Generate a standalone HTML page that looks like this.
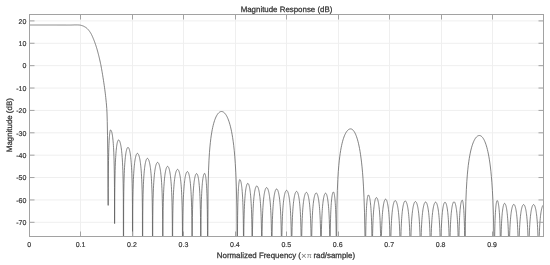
<!DOCTYPE html>
<html><head><meta charset="utf-8"><title>Magnitude Response (dB)</title>
<style>html,body{margin:0;padding:0;background:#fff}body{width:550px;height:265px;overflow:hidden}</style></head>
<body>
<svg width="550" height="265" viewBox="0 0 550 265" style="display:block">
<rect width="550" height="265" fill="#fff"/>
<defs><clipPath id="c"><rect x="29.5" y="14.5" width="514" height="222"/></clipPath></defs>
<path d="M80.50 14.5 V236.5 M132.50 14.5 V236.5 M183.50 14.5 V236.5 M235.50 14.5 V236.5 M286.50 14.5 V236.5 M338.50 14.5 V236.5 M389.50 14.5 V236.5 M441.50 14.5 V236.5 M492.50 14.5 V236.5 M29.5 222.32 H543.5 M29.5 199.94 H543.5 M29.5 177.56 H543.5 M29.5 155.18 H543.5 M29.5 132.80 H543.5 M29.5 110.42 H543.5 M29.5 88.04 H543.5 M29.5 65.66 H543.5 M29.5 43.28 H543.5 M29.5 20.90 H543.5" stroke="#efefef" stroke-width="1" fill="none"/>
<path d="M29.50 25.00 L29.75 25.00 L30.00 25.00 L30.25 25.00 L30.50 25.00 L30.75 25.00 L31.00 25.00 L31.25 25.00 L31.50 25.00 L31.75 25.00 L32.00 25.00 L32.25 25.00 L32.50 25.00 L32.75 25.00 L33.00 25.00 L33.25 25.00 L33.50 25.00 L33.75 25.00 L34.00 25.00 L34.25 25.00 L34.50 25.00 L34.75 25.00 L35.00 25.00 L35.25 25.00 L35.50 25.00 L35.75 25.00 L36.00 25.00 L36.25 25.00 L36.50 25.00 L36.75 25.00 L37.00 25.00 L37.25 25.00 L37.50 25.00 L37.75 25.00 L38.00 25.00 L38.25 25.00 L38.50 25.00 L38.75 25.00 L39.00 25.00 L39.25 25.00 L39.50 25.00 L39.75 25.00 L40.00 25.00 L40.25 25.00 L40.50 25.00 L40.75 25.00 L41.00 25.00 L41.25 25.00 L41.50 25.00 L41.75 25.00 L42.00 25.00 L42.25 25.00 L42.50 25.00 L42.75 25.00 L43.00 25.00 L43.25 25.00 L43.50 25.00 L43.75 25.00 L44.00 25.00 L44.25 25.00 L44.50 25.00 L44.75 25.00 L45.00 25.00 L45.25 25.00 L45.50 25.00 L45.75 25.00 L46.00 25.00 L46.25 25.00 L46.50 25.00 L46.75 25.00 L47.00 25.00 L47.25 25.00 L47.50 25.00 L47.75 25.00 L48.00 25.00 L48.25 25.00 L48.50 25.00 L48.75 25.00 L49.00 25.00 L49.25 25.00 L49.50 25.00 L49.75 25.00 L50.00 25.00 L50.25 25.00 L50.50 25.00 L50.75 25.00 L51.00 25.00 L51.25 25.00 L51.50 25.00 L51.75 25.00 L52.00 25.00 L52.25 25.00 L52.50 25.00 L52.75 25.00 L53.00 25.00 L53.25 25.00 L53.50 25.00 L53.75 25.00 L54.00 25.01 L54.25 25.01 L54.50 25.01 L54.75 25.01 L55.00 25.01 L55.25 25.01 L55.50 25.01 L55.75 25.01 L56.00 25.01 L56.25 25.01 L56.50 25.01 L56.75 25.01 L57.00 25.01 L57.25 25.01 L57.50 25.02 L57.75 25.02 L58.00 25.02 L58.25 25.02 L58.50 25.02 L58.75 25.02 L59.00 25.02 L59.25 25.02 L59.50 25.02 L59.75 25.02 L60.00 25.03 L60.25 25.03 L60.50 25.03 L60.75 25.03 L61.00 25.03 L61.25 25.03 L61.50 25.03 L61.75 25.03 L62.00 25.03 L62.25 25.03 L62.50 25.03 L62.75 25.04 L63.00 25.04 L63.25 25.04 L63.50 25.04 L63.75 25.04 L64.00 25.04 L64.25 25.04 L64.50 25.04 L64.75 25.04 L65.00 25.04 L65.25 25.04 L65.50 25.04 L65.75 25.04 L66.00 25.04 L66.25 25.05 L66.50 25.05 L66.75 25.05 L67.00 25.05 L67.25 25.05 L67.50 25.05 L67.75 25.05 L68.00 25.05 L68.25 25.05 L68.50 25.05 L68.75 25.05 L69.00 25.05 L69.25 25.05 L69.50 25.05 L69.75 25.05 L70.00 25.05 L70.25 25.05 L70.50 25.05 L70.75 25.04 L71.00 25.04 L71.25 25.03 L71.50 25.03 L71.75 25.02 L72.00 25.01 L72.25 25.00 L72.50 24.99 L72.75 24.98 L73.00 24.98 L73.25 24.97 L73.50 24.96 L73.75 24.95 L74.00 24.94 L74.25 24.93 L74.50 24.92 L74.75 24.92 L75.00 24.91 L75.25 24.91 L75.50 24.90 L75.75 24.90 L76.00 24.90 L76.25 24.90 L76.50 24.90 L76.75 24.91 L77.00 24.91 L77.25 24.92 L77.50 24.93 L77.75 24.94 L78.00 24.95 L78.25 24.96 L78.50 24.97 L78.75 24.99 L79.00 25.00 L79.25 25.02 L79.50 25.04 L79.75 25.08 L80.00 25.12 L80.25 25.16 L80.50 25.22 L80.75 25.27 L81.00 25.33 L81.25 25.40 L81.50 25.46 L81.75 25.53 L82.00 25.60 L82.25 25.67 L82.50 25.76 L82.75 25.84 L83.00 25.94 L83.25 26.04 L83.50 26.16 L83.75 26.27 L84.00 26.40 L84.25 26.53 L84.50 26.66 L84.75 26.81 L85.00 26.95 L85.25 27.11 L85.50 27.27 L85.75 27.43 L86.00 27.60 L86.25 27.78 L86.50 27.97 L86.75 28.18 L87.00 28.40 L87.25 28.64 L87.50 28.89 L87.75 29.15 L88.00 29.42 L88.25 29.70 L88.50 30.00 L88.75 30.31 L89.00 30.63 L89.25 30.96 L89.50 31.29 L89.75 31.64 L90.00 32.00 L90.25 32.37 L90.50 32.77 L90.75 33.19 L91.00 33.63 L91.25 34.10 L91.50 34.58 L91.75 35.08 L92.00 35.60 L92.25 36.14 L92.50 36.70 L92.75 37.27 L93.00 37.86 L93.25 38.46 L93.50 39.07 L93.75 39.70 L94.00 40.34 L94.25 40.99 L94.50 41.65 L94.75 42.32 L95.00 43.00 L95.25 43.69 L95.50 44.41 L95.75 45.15 L96.00 45.91 L96.25 46.69 L96.50 47.50 L96.75 48.32 L97.00 49.17 L97.25 50.04 L97.50 50.93 L97.75 51.84 L98.00 52.78 L98.25 53.73 L98.50 54.71 L98.75 55.71 L99.00 56.72 L99.25 57.76 L99.50 58.82 L99.75 59.90 L100.00 61.00 L100.25 62.13 L100.50 63.32 L100.75 64.55 L101.00 65.82 L101.25 67.14 L101.50 68.50 L101.75 69.90 L102.00 71.34 L102.25 72.81 L102.50 74.32 L102.75 75.86 L103.00 77.43 L103.25 79.03 L103.50 80.65 L103.75 82.29 L104.00 83.95 L104.25 85.65 L104.50 87.40 L104.75 89.23 L105.00 91.14 L105.25 93.16 L105.50 95.29 L105.75 97.57 L106.00 100.00 L106.25 102.43 L106.50 105.05 L106.75 108.40 L107.00 113.00 L107.25 121.44 L107.50 135.41 L107.75 154.51 L108.00 188.70 L108.15 205.40 L108.20 205.40 L108.28 187.35 L108.36 173.90 L108.44 166.06 L108.52 160.53 L108.60 156.27 L108.68 152.83 L108.76 149.95 L108.84 147.49 L108.92 145.35 L109.00 143.47 L109.08 141.81 L109.16 140.33 L109.24 139.00 L109.32 137.81 L109.40 136.74 L109.48 135.77 L109.56 134.90 L109.64 134.12 L109.72 133.42 L109.80 132.80 L109.88 132.24 L109.96 131.76 L110.04 131.34 L110.12 130.98 L110.20 130.67 L110.28 130.43 L110.36 130.24 L110.44 130.11 L110.52 130.03 L110.60 130.00 L110.73 130.03 L110.87 130.11 L111.00 130.24 L111.13 130.43 L111.27 130.67 L111.40 130.98 L111.53 131.34 L111.67 131.76 L111.80 132.24 L111.93 132.80 L112.07 133.42 L112.20 134.12 L112.33 134.90 L112.47 135.77 L112.60 136.74 L112.73 137.81 L112.87 139.00 L113.00 140.33 L113.13 141.81 L113.27 143.47 L113.40 145.35 L113.53 147.49 L113.67 149.95 L113.80 152.83 L113.93 156.27 L114.07 160.53 L114.20 166.06 L114.33 173.90 L114.47 187.35 L114.60 223.60 L114.60 223.60 L114.73 197.35 L114.87 183.90 L115.00 176.06 L115.13 170.53 L115.27 166.27 L115.40 162.83 L115.53 159.95 L115.67 157.49 L115.80 155.35 L115.93 153.47 L116.07 151.81 L116.20 150.33 L116.33 149.00 L116.47 147.81 L116.60 146.74 L116.73 145.77 L116.87 144.90 L117.00 144.12 L117.13 143.42 L117.27 142.80 L117.40 142.24 L117.53 141.76 L117.67 141.34 L117.80 140.98 L117.93 140.67 L118.07 140.43 L118.20 140.24 L118.33 140.11 L118.47 140.03 L118.60 140.00 L118.76 140.03 L118.93 140.11 L119.09 140.24 L119.25 140.43 L119.42 140.67 L119.58 140.98 L119.74 141.34 L119.91 141.76 L120.07 142.24 L120.23 142.80 L120.40 143.42 L120.56 144.12 L120.72 144.90 L120.89 145.77 L121.05 146.74 L121.21 147.81 L121.38 149.00 L121.54 150.33 L121.70 151.81 L121.87 153.47 L122.03 155.35 L122.19 157.49 L122.36 159.95 L122.52 162.83 L122.68 166.27 L122.85 170.53 L123.01 176.06 L123.17 183.90 L123.34 197.35 L123.50 300.00 L123.50 300.00 L123.65 204.75 L123.80 191.30 L123.95 183.46 L124.10 177.93 L124.25 173.67 L124.40 170.23 L124.55 167.35 L124.70 164.89 L124.85 162.75 L125.00 160.87 L125.15 159.21 L125.30 157.73 L125.45 156.40 L125.60 155.21 L125.75 154.14 L125.90 153.17 L126.05 152.30 L126.20 151.52 L126.35 150.82 L126.50 150.20 L126.65 149.64 L126.80 149.16 L126.95 148.74 L127.10 148.38 L127.25 148.07 L127.40 147.83 L127.55 147.64 L127.70 147.51 L127.85 147.43 L128.00 147.40 L128.15 147.43 L128.31 147.51 L128.46 147.64 L128.61 147.83 L128.77 148.07 L128.92 148.38 L129.07 148.74 L129.23 149.16 L129.38 149.64 L129.53 150.20 L129.69 150.82 L129.84 151.52 L129.99 152.30 L130.15 153.17 L130.30 154.14 L130.45 155.21 L130.61 156.40 L130.76 157.73 L130.91 159.21 L131.07 160.87 L131.22 162.75 L131.37 164.89 L131.53 167.35 L131.68 170.23 L131.83 173.67 L131.99 177.93 L132.14 183.46 L132.29 191.30 L132.45 204.75 L132.60 300.00 L132.60 300.00 L132.76 210.75 L132.92 197.30 L133.08 189.46 L133.24 183.93 L133.40 179.67 L133.56 176.23 L133.72 173.35 L133.88 170.89 L134.04 168.75 L134.20 166.87 L134.36 165.21 L134.52 163.73 L134.68 162.40 L134.84 161.21 L135.00 160.14 L135.16 159.17 L135.32 158.30 L135.48 157.52 L135.64 156.82 L135.80 156.20 L135.96 155.64 L136.12 155.16 L136.28 154.74 L136.44 154.38 L136.60 154.07 L136.76 153.83 L136.92 153.64 L137.08 153.51 L137.24 153.43 L137.40 153.40 L137.57 153.43 L137.75 153.51 L137.92 153.64 L138.09 153.83 L138.27 154.07 L138.44 154.38 L138.61 154.74 L138.79 155.16 L138.96 155.64 L139.13 156.20 L139.31 156.82 L139.48 157.52 L139.65 158.30 L139.83 159.17 L140.00 160.14 L140.17 161.21 L140.35 162.40 L140.52 163.73 L140.69 165.21 L140.87 166.87 L141.04 168.75 L141.21 170.89 L141.39 173.35 L141.56 176.23 L141.73 179.67 L141.91 183.93 L142.08 189.46 L142.25 197.30 L142.43 210.75 L142.60 300.00 L142.60 300.00 L142.76 215.75 L142.92 202.30 L143.08 194.46 L143.24 188.93 L143.40 184.67 L143.56 181.23 L143.72 178.35 L143.88 175.89 L144.04 173.75 L144.20 171.87 L144.36 170.21 L144.52 168.73 L144.68 167.40 L144.84 166.21 L145.00 165.14 L145.16 164.17 L145.32 163.30 L145.48 162.52 L145.64 161.82 L145.80 161.20 L145.96 160.64 L146.12 160.16 L146.28 159.74 L146.44 159.38 L146.60 159.07 L146.76 158.83 L146.92 158.64 L147.08 158.51 L147.24 158.43 L147.40 158.40 L147.57 158.43 L147.75 158.51 L147.92 158.64 L148.09 158.83 L148.27 159.07 L148.44 159.38 L148.61 159.74 L148.79 160.16 L148.96 160.64 L149.13 161.20 L149.31 161.82 L149.48 162.52 L149.65 163.30 L149.83 164.17 L150.00 165.14 L150.17 166.21 L150.35 167.40 L150.52 168.73 L150.69 170.21 L150.87 171.87 L151.04 173.75 L151.21 175.89 L151.39 178.35 L151.56 181.23 L151.73 184.67 L151.91 188.93 L152.08 194.46 L152.25 202.30 L152.43 215.75 L152.60 300.00 L152.60 300.00 L152.77 219.75 L152.93 206.30 L153.10 198.46 L153.27 192.93 L153.43 188.67 L153.60 185.23 L153.77 182.35 L153.93 179.89 L154.10 177.75 L154.27 175.87 L154.43 174.21 L154.60 172.73 L154.77 171.40 L154.93 170.21 L155.10 169.14 L155.27 168.17 L155.43 167.30 L155.60 166.52 L155.77 165.82 L155.93 165.20 L156.10 164.64 L156.27 164.16 L156.43 163.74 L156.60 163.38 L156.77 163.07 L156.93 162.83 L157.10 162.64 L157.27 162.51 L157.43 162.43 L157.60 162.40 L157.77 162.43 L157.95 162.51 L158.12 162.64 L158.29 162.83 L158.47 163.07 L158.64 163.38 L158.81 163.74 L158.99 164.16 L159.16 164.64 L159.33 165.20 L159.51 165.82 L159.68 166.52 L159.85 167.30 L160.03 168.17 L160.20 169.14 L160.37 170.21 L160.55 171.40 L160.72 172.73 L160.89 174.21 L161.07 175.87 L161.24 177.75 L161.41 179.89 L161.59 182.35 L161.76 185.23 L161.93 188.67 L162.11 192.93 L162.28 198.46 L162.45 206.30 L162.63 219.75 L162.80 300.00 L162.80 300.00 L162.96 223.75 L163.12 210.30 L163.28 202.46 L163.44 196.93 L163.60 192.67 L163.76 189.23 L163.92 186.35 L164.08 183.89 L164.24 181.75 L164.40 179.87 L164.56 178.21 L164.72 176.73 L164.88 175.40 L165.04 174.21 L165.20 173.14 L165.36 172.17 L165.52 171.30 L165.68 170.52 L165.84 169.82 L166.00 169.20 L166.16 168.64 L166.32 168.16 L166.48 167.74 L166.64 167.38 L166.80 167.07 L166.96 166.83 L167.12 166.64 L167.28 166.51 L167.44 166.43 L167.60 166.40 L167.76 166.43 L167.93 166.51 L168.09 166.64 L168.25 166.83 L168.42 167.07 L168.58 167.38 L168.74 167.74 L168.91 168.16 L169.07 168.64 L169.23 169.20 L169.40 169.82 L169.56 170.52 L169.72 171.30 L169.89 172.17 L170.05 173.14 L170.21 174.21 L170.38 175.40 L170.54 176.73 L170.70 178.21 L170.87 179.87 L171.03 181.75 L171.19 183.89 L171.36 186.35 L171.52 189.23 L171.68 192.67 L171.85 196.93 L172.01 202.46 L172.17 210.30 L172.34 223.75 L172.50 300.00 L172.50 300.00 L172.67 226.75 L172.84 213.30 L173.01 205.46 L173.18 199.93 L173.35 195.67 L173.52 192.23 L173.69 189.35 L173.86 186.89 L174.03 184.75 L174.20 182.87 L174.37 181.21 L174.54 179.73 L174.71 178.40 L174.88 177.21 L175.05 176.14 L175.22 175.17 L175.39 174.30 L175.56 173.52 L175.73 172.82 L175.90 172.20 L176.07 171.64 L176.24 171.16 L176.41 170.74 L176.58 170.38 L176.75 170.07 L176.92 169.83 L177.09 169.64 L177.26 169.51 L177.43 169.43 L177.60 169.40 L177.77 169.43 L177.93 169.51 L178.10 169.64 L178.27 169.83 L178.43 170.07 L178.60 170.38 L178.77 170.74 L178.93 171.16 L179.10 171.64 L179.27 172.20 L179.43 172.82 L179.60 173.52 L179.77 174.30 L179.93 175.17 L180.10 176.14 L180.27 177.21 L180.43 178.40 L180.60 179.73 L180.77 181.21 L180.93 182.87 L181.10 184.75 L181.27 186.89 L181.43 189.35 L181.60 192.23 L181.77 195.67 L181.93 199.93 L182.10 205.46 L182.27 213.30 L182.43 226.75 L182.60 300.00 L182.60 300.00 L182.76 228.95 L182.92 215.50 L183.08 207.66 L183.24 202.13 L183.40 197.87 L183.56 194.43 L183.72 191.55 L183.88 189.09 L184.04 186.95 L184.20 185.07 L184.36 183.41 L184.52 181.93 L184.68 180.60 L184.84 179.41 L185.00 178.34 L185.16 177.37 L185.32 176.50 L185.48 175.72 L185.64 175.02 L185.80 174.40 L185.96 173.84 L186.12 173.36 L186.28 172.94 L186.44 172.58 L186.60 172.27 L186.76 172.03 L186.92 171.84 L187.08 171.71 L187.24 171.63 L187.40 171.60 L187.56 171.63 L187.71 171.71 L187.87 171.84 L188.03 172.03 L188.18 172.27 L188.34 172.58 L188.50 172.94 L188.65 173.36 L188.81 173.84 L188.97 174.40 L189.12 175.02 L189.28 175.72 L189.44 176.50 L189.59 177.37 L189.75 178.34 L189.91 179.41 L190.06 180.60 L190.22 181.93 L190.38 183.41 L190.53 185.07 L190.69 186.95 L190.85 189.09 L191.00 191.55 L191.16 194.43 L191.32 197.87 L191.47 202.13 L191.63 207.66 L191.79 215.50 L191.94 228.95 L192.10 300.00 L192.10 300.00 L192.25 230.95 L192.40 217.50 L192.55 209.66 L192.70 204.13 L192.85 199.87 L193.00 196.43 L193.15 193.55 L193.30 191.09 L193.45 188.95 L193.60 187.07 L193.75 185.41 L193.90 183.93 L194.05 182.60 L194.20 181.41 L194.35 180.34 L194.50 179.37 L194.65 178.50 L194.80 177.72 L194.95 177.02 L195.10 176.40 L195.25 175.84 L195.40 175.36 L195.55 174.94 L195.70 174.58 L195.85 174.27 L196.00 174.03 L196.15 173.84 L196.30 173.71 L196.45 173.63 L196.60 173.60 L196.74 173.63 L196.88 173.71 L197.02 173.84 L197.16 174.03 L197.30 174.27 L197.44 174.58 L197.58 174.94 L197.72 175.36 L197.86 175.84 L198.00 176.40 L198.14 177.02 L198.28 177.72 L198.42 178.50 L198.56 179.37 L198.70 180.34 L198.84 181.41 L198.98 182.60 L199.12 183.93 L199.26 185.41 L199.40 187.07 L199.54 188.95 L199.68 191.09 L199.82 193.55 L199.96 196.43 L200.10 199.87 L200.24 204.13 L200.38 209.66 L200.52 217.50 L200.66 230.95 L200.80 300.00 L200.80 300.00 L200.93 230.75 L201.05 217.30 L201.18 209.46 L201.31 203.93 L201.43 199.67 L201.56 196.23 L201.69 193.35 L201.81 190.89 L201.94 188.75 L202.07 186.87 L202.19 185.21 L202.32 183.73 L202.45 182.40 L202.57 181.21 L202.70 180.14 L202.83 179.17 L202.95 178.30 L203.08 177.52 L203.21 176.82 L203.33 176.20 L203.46 175.64 L203.59 175.16 L203.71 174.74 L203.84 174.38 L203.97 174.07 L204.09 173.83 L204.22 173.64 L204.35 173.51 L204.47 173.43 L204.60 173.40 L204.70 173.43 L204.80 173.51 L204.90 173.64 L205.00 173.83 L205.10 174.07 L205.20 174.38 L205.30 174.74 L205.40 175.16 L205.50 175.64 L205.60 176.20 L205.70 176.82 L205.80 177.52 L205.90 178.30 L206.00 179.17 L206.10 180.14 L206.20 181.21 L206.30 182.40 L206.40 183.73 L206.50 185.21 L206.60 186.87 L206.70 188.75 L206.80 190.89 L206.90 193.35 L207.00 196.23 L207.10 199.67 L207.20 203.93 L207.30 209.46 L207.40 217.30 L207.50 230.75 L207.60 300.00 L207.60 300.00 L208.06 188.92 L208.53 170.76 L208.99 160.18 L209.45 152.72 L209.92 146.97 L210.38 142.32 L210.84 138.43 L211.31 135.11 L211.77 132.22 L212.23 129.69 L212.70 127.45 L213.16 125.45 L213.62 123.65 L214.09 122.04 L214.55 120.60 L215.01 119.29 L215.48 118.12 L215.94 117.06 L216.40 116.12 L216.87 115.27 L217.33 114.53 L217.79 113.87 L218.26 113.30 L218.72 112.82 L219.18 112.41 L219.65 112.08 L220.11 111.83 L220.57 111.64 L221.04 111.54 L221.50 111.50 L222.03 111.55 L222.56 111.68 L223.09 111.91 L223.62 112.23 L224.15 112.65 L224.68 113.16 L225.21 113.77 L225.74 114.49 L226.27 115.31 L226.80 116.25 L227.33 117.31 L227.86 118.50 L228.39 119.83 L228.92 121.31 L229.45 122.95 L229.98 124.78 L230.51 126.80 L231.04 129.06 L231.57 131.58 L232.10 134.41 L232.63 137.60 L233.16 141.23 L233.69 145.41 L234.22 150.31 L234.75 156.17 L235.28 163.40 L235.81 172.80 L236.34 186.13 L236.87 208.99 L237.40 300.00 L237.40 300.00 L237.48 236.95 L237.56 223.50 L237.64 215.66 L237.72 210.13 L237.80 205.87 L237.88 202.43 L237.96 199.55 L238.04 197.09 L238.12 194.95 L238.20 193.07 L238.28 191.41 L238.36 189.93 L238.44 188.60 L238.52 187.41 L238.60 186.34 L238.68 185.37 L238.76 184.50 L238.84 183.72 L238.92 183.02 L239.00 182.40 L239.08 181.84 L239.16 181.36 L239.24 180.94 L239.32 180.58 L239.40 180.27 L239.48 180.03 L239.56 179.84 L239.64 179.71 L239.72 179.63 L239.80 179.60 L239.93 179.63 L240.05 179.71 L240.18 179.84 L240.31 180.03 L240.43 180.27 L240.56 180.58 L240.69 180.94 L240.81 181.36 L240.94 181.84 L241.07 182.40 L241.19 183.02 L241.32 183.72 L241.45 184.50 L241.57 185.37 L241.70 186.34 L241.83 187.41 L241.95 188.60 L242.08 189.93 L242.21 191.41 L242.33 193.07 L242.46 194.95 L242.59 197.09 L242.71 199.55 L242.84 202.43 L242.97 205.87 L243.09 210.13 L243.22 215.66 L243.35 223.50 L243.47 236.95 L243.60 300.00 L243.60 300.00 L243.74 240.75 L243.88 227.30 L244.02 219.46 L244.16 213.93 L244.30 209.67 L244.44 206.23 L244.58 203.35 L244.72 200.89 L244.86 198.75 L245.00 196.87 L245.14 195.21 L245.28 193.73 L245.42 192.40 L245.56 191.21 L245.70 190.14 L245.84 189.17 L245.98 188.30 L246.12 187.52 L246.26 186.82 L246.40 186.20 L246.54 185.64 L246.68 185.16 L246.82 184.74 L246.96 184.38 L247.10 184.07 L247.24 183.83 L247.38 183.64 L247.52 183.51 L247.66 183.43 L247.80 183.40 L247.95 183.43 L248.09 183.51 L248.24 183.64 L248.39 183.83 L248.53 184.07 L248.68 184.38 L248.83 184.74 L248.97 185.16 L249.12 185.64 L249.27 186.20 L249.41 186.82 L249.56 187.52 L249.71 188.30 L249.85 189.17 L250.00 190.14 L250.15 191.21 L250.29 192.40 L250.44 193.73 L250.59 195.21 L250.73 196.87 L250.88 198.75 L251.03 200.89 L251.17 203.35 L251.32 206.23 L251.47 209.67 L251.61 213.93 L251.76 219.46 L251.91 227.30 L252.05 240.75 L252.20 300.00 L252.20 300.00 L252.35 243.35 L252.51 229.90 L252.66 222.06 L252.81 216.53 L252.97 212.27 L253.12 208.83 L253.27 205.95 L253.43 203.49 L253.58 201.35 L253.73 199.47 L253.89 197.81 L254.04 196.33 L254.19 195.00 L254.35 193.81 L254.50 192.74 L254.65 191.77 L254.81 190.90 L254.96 190.12 L255.11 189.42 L255.27 188.80 L255.42 188.24 L255.57 187.76 L255.73 187.34 L255.88 186.98 L256.03 186.67 L256.19 186.43 L256.34 186.24 L256.49 186.11 L256.65 186.03 L256.80 186.00 L256.97 186.03 L257.13 186.11 L257.30 186.24 L257.47 186.43 L257.63 186.67 L257.80 186.98 L257.97 187.34 L258.13 187.76 L258.30 188.24 L258.47 188.80 L258.63 189.42 L258.80 190.12 L258.97 190.90 L259.13 191.77 L259.30 192.74 L259.47 193.81 L259.63 195.00 L259.80 196.33 L259.97 197.81 L260.13 199.47 L260.30 201.35 L260.47 203.49 L260.63 205.95 L260.80 208.83 L260.97 212.27 L261.13 216.53 L261.30 222.06 L261.47 229.90 L261.63 243.35 L261.80 300.00 L261.80 300.00 L261.96 244.95 L262.12 231.50 L262.28 223.66 L262.44 218.13 L262.60 213.87 L262.76 210.43 L262.92 207.55 L263.08 205.09 L263.24 202.95 L263.40 201.07 L263.56 199.41 L263.72 197.93 L263.88 196.60 L264.04 195.41 L264.20 194.34 L264.36 193.37 L264.52 192.50 L264.68 191.72 L264.84 191.02 L265.00 190.40 L265.16 189.84 L265.32 189.36 L265.48 188.94 L265.64 188.58 L265.80 188.27 L265.96 188.03 L266.12 187.84 L266.28 187.71 L266.44 187.63 L266.60 187.60 L266.77 187.63 L266.95 187.71 L267.12 187.84 L267.29 188.03 L267.47 188.27 L267.64 188.58 L267.81 188.94 L267.99 189.36 L268.16 189.84 L268.33 190.40 L268.51 191.02 L268.68 191.72 L268.85 192.50 L269.03 193.37 L269.20 194.34 L269.37 195.41 L269.55 196.60 L269.72 197.93 L269.89 199.41 L270.07 201.07 L270.24 202.95 L270.41 205.09 L270.59 207.55 L270.76 210.43 L270.93 213.87 L271.11 218.13 L271.28 223.66 L271.45 231.50 L271.63 244.95 L271.80 300.00 L271.80 300.00 L271.96 246.35 L272.12 232.90 L272.28 225.06 L272.44 219.53 L272.60 215.27 L272.76 211.83 L272.92 208.95 L273.08 206.49 L273.24 204.35 L273.40 202.47 L273.56 200.81 L273.72 199.33 L273.88 198.00 L274.04 196.81 L274.20 195.74 L274.36 194.77 L274.52 193.90 L274.68 193.12 L274.84 192.42 L275.00 191.80 L275.16 191.24 L275.32 190.76 L275.48 190.34 L275.64 189.98 L275.80 189.67 L275.96 189.43 L276.12 189.24 L276.28 189.11 L276.44 189.03 L276.60 189.00 L276.77 189.03 L276.93 189.11 L277.10 189.24 L277.27 189.43 L277.43 189.67 L277.60 189.98 L277.77 190.34 L277.93 190.76 L278.10 191.24 L278.27 191.80 L278.43 192.42 L278.60 193.12 L278.77 193.90 L278.93 194.77 L279.10 195.74 L279.27 196.81 L279.43 198.00 L279.60 199.33 L279.77 200.81 L279.93 202.47 L280.10 204.35 L280.27 206.49 L280.43 208.95 L280.60 211.83 L280.77 215.27 L280.93 219.53 L281.10 225.06 L281.27 232.90 L281.43 246.35 L281.60 300.00 L281.60 300.00 L281.77 247.75 L281.93 234.30 L282.10 226.46 L282.27 220.93 L282.43 216.67 L282.60 213.23 L282.77 210.35 L282.93 207.89 L283.10 205.75 L283.27 203.87 L283.43 202.21 L283.60 200.73 L283.77 199.40 L283.93 198.21 L284.10 197.14 L284.27 196.17 L284.43 195.30 L284.60 194.52 L284.77 193.82 L284.93 193.20 L285.10 192.64 L285.27 192.16 L285.43 191.74 L285.60 191.38 L285.77 191.07 L285.93 190.83 L286.10 190.64 L286.27 190.51 L286.43 190.43 L286.60 190.40 L286.77 190.43 L286.93 190.51 L287.10 190.64 L287.27 190.83 L287.43 191.07 L287.60 191.38 L287.77 191.74 L287.93 192.16 L288.10 192.64 L288.27 193.20 L288.43 193.82 L288.60 194.52 L288.77 195.30 L288.93 196.17 L289.10 197.14 L289.27 198.21 L289.43 199.40 L289.60 200.73 L289.77 202.21 L289.93 203.87 L290.10 205.75 L290.27 207.89 L290.43 210.35 L290.60 213.23 L290.77 216.67 L290.93 220.93 L291.10 226.46 L291.27 234.30 L291.43 247.75 L291.60 300.00 L291.60 300.00 L291.77 248.75 L291.93 235.30 L292.10 227.46 L292.27 221.93 L292.43 217.67 L292.60 214.23 L292.77 211.35 L292.93 208.89 L293.10 206.75 L293.27 204.87 L293.43 203.21 L293.60 201.73 L293.77 200.40 L293.93 199.21 L294.10 198.14 L294.27 197.17 L294.43 196.30 L294.60 195.52 L294.77 194.82 L294.93 194.20 L295.10 193.64 L295.27 193.16 L295.43 192.74 L295.60 192.38 L295.77 192.07 L295.93 191.83 L296.10 191.64 L296.27 191.51 L296.43 191.43 L296.60 191.40 L296.76 191.43 L296.92 191.51 L297.08 191.64 L297.24 191.83 L297.40 192.07 L297.56 192.38 L297.72 192.74 L297.88 193.16 L298.04 193.64 L298.20 194.20 L298.36 194.82 L298.52 195.52 L298.68 196.30 L298.84 197.17 L299.00 198.14 L299.16 199.21 L299.32 200.40 L299.48 201.73 L299.64 203.21 L299.80 204.87 L299.96 206.75 L300.12 208.89 L300.28 211.35 L300.44 214.23 L300.60 217.67 L300.76 221.93 L300.92 227.46 L301.08 235.30 L301.24 248.75 L301.40 300.00 L301.40 300.00 L301.57 249.75 L301.73 236.30 L301.90 228.46 L302.07 222.93 L302.23 218.67 L302.40 215.23 L302.57 212.35 L302.73 209.89 L302.90 207.75 L303.07 205.87 L303.23 204.21 L303.40 202.73 L303.57 201.40 L303.73 200.21 L303.90 199.14 L304.07 198.17 L304.23 197.30 L304.40 196.52 L304.57 195.82 L304.73 195.20 L304.90 194.64 L305.07 194.16 L305.23 193.74 L305.40 193.38 L305.57 193.07 L305.73 192.83 L305.90 192.64 L306.07 192.51 L306.23 192.43 L306.40 192.40 L306.57 192.43 L306.73 192.51 L306.90 192.64 L307.07 192.83 L307.23 193.07 L307.40 193.38 L307.57 193.74 L307.73 194.16 L307.90 194.64 L308.07 195.20 L308.23 195.82 L308.40 196.52 L308.57 197.30 L308.73 198.17 L308.90 199.14 L309.07 200.21 L309.23 201.40 L309.40 202.73 L309.57 204.21 L309.73 205.87 L309.90 207.75 L310.07 209.89 L310.23 212.35 L310.40 215.23 L310.57 218.67 L310.73 222.93 L310.90 228.46 L311.07 236.30 L311.23 249.75 L311.40 300.00 L311.40 300.00 L311.56 250.35 L311.72 236.90 L311.88 229.06 L312.04 223.53 L312.20 219.27 L312.36 215.83 L312.52 212.95 L312.68 210.49 L312.84 208.35 L313.00 206.47 L313.16 204.81 L313.32 203.33 L313.48 202.00 L313.64 200.81 L313.80 199.74 L313.96 198.77 L314.12 197.90 L314.28 197.12 L314.44 196.42 L314.60 195.80 L314.76 195.24 L314.92 194.76 L315.08 194.34 L315.24 193.98 L315.40 193.67 L315.56 193.43 L315.72 193.24 L315.88 193.11 L316.04 193.03 L316.20 193.00 L316.36 193.03 L316.52 193.11 L316.68 193.24 L316.84 193.43 L317.00 193.67 L317.16 193.98 L317.32 194.34 L317.48 194.76 L317.64 195.24 L317.80 195.80 L317.96 196.42 L318.12 197.12 L318.28 197.90 L318.44 198.77 L318.60 199.74 L318.76 200.81 L318.92 202.00 L319.08 203.33 L319.24 204.81 L319.40 206.47 L319.56 208.35 L319.72 210.49 L319.88 212.95 L320.04 215.83 L320.20 219.27 L320.36 223.53 L320.52 229.06 L320.68 236.90 L320.84 250.35 L321.00 300.00 L321.00 300.00 L321.15 250.55 L321.31 237.10 L321.46 229.26 L321.61 223.73 L321.77 219.47 L321.92 216.03 L322.07 213.15 L322.23 210.69 L322.38 208.55 L322.53 206.67 L322.69 205.01 L322.84 203.53 L322.99 202.20 L323.15 201.01 L323.30 199.94 L323.45 198.97 L323.61 198.10 L323.76 197.32 L323.91 196.62 L324.07 196.00 L324.22 195.44 L324.37 194.96 L324.53 194.54 L324.68 194.18 L324.83 193.87 L324.99 193.63 L325.14 193.44 L325.29 193.31 L325.45 193.23 L325.60 193.20 L325.75 193.23 L325.89 193.31 L326.04 193.44 L326.19 193.63 L326.33 193.87 L326.48 194.18 L326.63 194.54 L326.77 194.96 L326.92 195.44 L327.07 196.00 L327.21 196.62 L327.36 197.32 L327.51 198.10 L327.65 198.97 L327.80 199.94 L327.95 201.01 L328.09 202.20 L328.24 203.53 L328.39 205.01 L328.53 206.67 L328.68 208.55 L328.83 210.69 L328.97 213.15 L329.12 216.03 L329.27 219.47 L329.41 223.73 L329.56 229.26 L329.71 237.10 L329.85 250.55 L330.00 300.00 L330.00 300.00 L330.11 249.35 L330.23 235.90 L330.34 228.06 L330.45 222.53 L330.57 218.27 L330.68 214.83 L330.79 211.95 L330.91 209.49 L331.02 207.35 L331.13 205.47 L331.25 203.81 L331.36 202.33 L331.47 201.00 L331.59 199.81 L331.70 198.74 L331.81 197.77 L331.93 196.90 L332.04 196.12 L332.15 195.42 L332.27 194.80 L332.38 194.24 L332.49 193.76 L332.61 193.34 L332.72 192.98 L332.83 192.67 L332.95 192.43 L333.06 192.24 L333.17 192.11 L333.29 192.03 L333.40 192.00 L333.50 192.03 L333.60 192.11 L333.70 192.24 L333.80 192.43 L333.90 192.67 L334.00 192.98 L334.10 193.34 L334.20 193.76 L334.30 194.24 L334.40 194.80 L334.50 195.42 L334.60 196.12 L334.70 196.90 L334.80 197.77 L334.90 198.74 L335.00 199.81 L335.10 201.00 L335.20 202.33 L335.30 203.81 L335.40 205.47 L335.50 207.35 L335.60 209.49 L335.70 211.95 L335.80 214.83 L335.90 218.27 L336.00 222.53 L336.10 228.06 L336.20 235.90 L336.30 249.35 L336.40 300.00 L336.40 300.00 L336.87 209.19 L337.35 190.36 L337.82 179.39 L338.29 171.64 L338.77 165.68 L339.24 160.86 L339.71 156.83 L340.19 153.38 L340.66 150.39 L341.13 147.76 L341.61 145.44 L342.08 143.36 L342.55 141.50 L343.03 139.83 L343.50 138.33 L343.97 136.98 L344.45 135.76 L344.92 134.67 L345.39 133.69 L345.87 132.81 L346.34 132.04 L346.81 131.36 L347.29 130.77 L347.76 130.27 L348.23 129.84 L348.71 129.50 L349.18 129.24 L349.65 129.05 L350.13 128.94 L350.60 128.90 L351.10 128.95 L351.59 129.10 L352.09 129.36 L352.59 129.72 L353.08 130.18 L353.58 130.75 L354.08 131.44 L354.57 132.24 L355.07 133.16 L355.57 134.21 L356.06 135.40 L356.56 136.73 L357.06 138.21 L357.55 139.86 L358.05 141.70 L358.55 143.74 L359.04 146.00 L359.54 148.53 L360.04 151.34 L360.53 154.50 L361.03 158.07 L361.53 162.13 L362.02 166.80 L362.52 172.27 L363.02 178.82 L363.51 186.91 L364.01 197.42 L364.51 212.31 L365.00 237.86 L365.50 300.00 L365.50 300.00 L365.60 252.35 L365.69 238.90 L365.79 231.06 L365.89 225.53 L365.98 221.27 L366.08 217.83 L366.18 214.95 L366.27 212.49 L366.37 210.35 L366.47 208.47 L366.56 206.81 L366.66 205.33 L366.76 204.00 L366.85 202.81 L366.95 201.74 L367.05 200.77 L367.14 199.90 L367.24 199.12 L367.34 198.42 L367.43 197.80 L367.53 197.24 L367.63 196.76 L367.72 196.34 L367.82 195.98 L367.92 195.67 L368.01 195.43 L368.11 195.24 L368.21 195.11 L368.30 195.03 L368.40 195.00 L368.53 195.03 L368.65 195.11 L368.78 195.24 L368.91 195.43 L369.03 195.67 L369.16 195.98 L369.29 196.34 L369.41 196.76 L369.54 197.24 L369.67 197.80 L369.79 198.42 L369.92 199.12 L370.05 199.90 L370.17 200.77 L370.30 201.74 L370.43 202.81 L370.55 204.00 L370.68 205.33 L370.81 206.81 L370.93 208.47 L371.06 210.35 L371.19 212.49 L371.31 214.95 L371.44 217.83 L371.57 221.27 L371.69 225.53 L371.82 231.06 L371.95 238.90 L372.07 252.35 L372.20 300.00 L372.20 300.00 L372.34 254.95 L372.48 241.50 L372.62 233.66 L372.76 228.13 L372.90 223.87 L373.04 220.43 L373.18 217.55 L373.32 215.09 L373.46 212.95 L373.60 211.07 L373.74 209.41 L373.88 207.93 L374.02 206.60 L374.16 205.41 L374.30 204.34 L374.44 203.37 L374.58 202.50 L374.72 201.72 L374.86 201.02 L375.00 200.40 L375.14 199.84 L375.28 199.36 L375.42 198.94 L375.56 198.58 L375.70 198.27 L375.84 198.03 L375.98 197.84 L376.12 197.71 L376.26 197.63 L376.40 197.60 L376.55 197.63 L376.71 197.71 L376.86 197.84 L377.01 198.03 L377.17 198.27 L377.32 198.58 L377.47 198.94 L377.63 199.36 L377.78 199.84 L377.93 200.40 L378.09 201.02 L378.24 201.72 L378.39 202.50 L378.55 203.37 L378.70 204.34 L378.85 205.41 L379.01 206.60 L379.16 207.93 L379.31 209.41 L379.47 211.07 L379.62 212.95 L379.77 215.09 L379.93 217.55 L380.08 220.43 L380.23 223.87 L380.39 228.13 L380.54 233.66 L380.69 241.50 L380.85 254.95 L381.00 300.00 L381.00 300.00 L381.15 256.55 L381.31 243.10 L381.46 235.26 L381.61 229.73 L381.77 225.47 L381.92 222.03 L382.07 219.15 L382.23 216.69 L382.38 214.55 L382.53 212.67 L382.69 211.01 L382.84 209.53 L382.99 208.20 L383.15 207.01 L383.30 205.94 L383.45 204.97 L383.61 204.10 L383.76 203.32 L383.91 202.62 L384.07 202.00 L384.22 201.44 L384.37 200.96 L384.53 200.54 L384.68 200.18 L384.83 199.87 L384.99 199.63 L385.14 199.44 L385.29 199.31 L385.45 199.23 L385.60 199.20 L385.76 199.23 L385.92 199.31 L386.08 199.44 L386.24 199.63 L386.40 199.87 L386.56 200.18 L386.72 200.54 L386.88 200.96 L387.04 201.44 L387.20 202.00 L387.36 202.62 L387.52 203.32 L387.68 204.10 L387.84 204.97 L388.00 205.94 L388.16 207.01 L388.32 208.20 L388.48 209.53 L388.64 211.01 L388.80 212.67 L388.96 214.55 L389.12 216.69 L389.28 219.15 L389.44 222.03 L389.60 225.47 L389.76 229.73 L389.92 235.26 L390.08 243.10 L390.24 256.55 L390.40 300.00 L390.40 300.00 L390.56 257.95 L390.72 244.50 L390.88 236.66 L391.04 231.13 L391.20 226.87 L391.36 223.43 L391.52 220.55 L391.68 218.09 L391.84 215.95 L392.00 214.07 L392.16 212.41 L392.32 210.93 L392.48 209.60 L392.64 208.41 L392.80 207.34 L392.96 206.37 L393.12 205.50 L393.28 204.72 L393.44 204.02 L393.60 203.40 L393.76 202.84 L393.92 202.36 L394.08 201.94 L394.24 201.58 L394.40 201.27 L394.56 201.03 L394.72 200.84 L394.88 200.71 L395.04 200.63 L395.20 200.60 L395.37 200.63 L395.55 200.71 L395.72 200.84 L395.89 201.03 L396.07 201.27 L396.24 201.58 L396.41 201.94 L396.59 202.36 L396.76 202.84 L396.93 203.40 L397.11 204.02 L397.28 204.72 L397.45 205.50 L397.63 206.37 L397.80 207.34 L397.97 208.41 L398.15 209.60 L398.32 210.93 L398.49 212.41 L398.67 214.07 L398.84 215.95 L399.01 218.09 L399.19 220.55 L399.36 223.43 L399.53 226.87 L399.71 231.13 L399.88 236.66 L400.05 244.50 L400.23 257.95 L400.40 300.00 L400.40 300.00 L400.56 258.35 L400.72 244.90 L400.88 237.06 L401.04 231.53 L401.20 227.27 L401.36 223.83 L401.52 220.95 L401.68 218.49 L401.84 216.35 L402.00 214.47 L402.16 212.81 L402.32 211.33 L402.48 210.00 L402.64 208.81 L402.80 207.74 L402.96 206.77 L403.12 205.90 L403.28 205.12 L403.44 204.42 L403.60 203.80 L403.76 203.24 L403.92 202.76 L404.08 202.34 L404.24 201.98 L404.40 201.67 L404.56 201.43 L404.72 201.24 L404.88 201.11 L405.04 201.03 L405.20 201.00 L405.37 201.03 L405.55 201.11 L405.72 201.24 L405.89 201.43 L406.07 201.67 L406.24 201.98 L406.41 202.34 L406.59 202.76 L406.76 203.24 L406.93 203.80 L407.11 204.42 L407.28 205.12 L407.45 205.90 L407.63 206.77 L407.80 207.74 L407.97 208.81 L408.15 210.00 L408.32 211.33 L408.49 212.81 L408.67 214.47 L408.84 216.35 L409.01 218.49 L409.19 220.95 L409.36 223.83 L409.53 227.27 L409.71 231.53 L409.88 237.06 L410.05 244.90 L410.23 258.35 L410.40 300.00 L410.40 300.00 L410.57 258.95 L410.73 245.50 L410.90 237.66 L411.07 232.13 L411.23 227.87 L411.40 224.43 L411.57 221.55 L411.73 219.09 L411.90 216.95 L412.07 215.07 L412.23 213.41 L412.40 211.93 L412.57 210.60 L412.73 209.41 L412.90 208.34 L413.07 207.37 L413.23 206.50 L413.40 205.72 L413.57 205.02 L413.73 204.40 L413.90 203.84 L414.07 203.36 L414.23 202.94 L414.40 202.58 L414.57 202.27 L414.73 202.03 L414.90 201.84 L415.07 201.71 L415.23 201.63 L415.40 201.60 L415.57 201.63 L415.75 201.71 L415.92 201.84 L416.09 202.03 L416.27 202.27 L416.44 202.58 L416.61 202.94 L416.79 203.36 L416.96 203.84 L417.13 204.40 L417.31 205.02 L417.48 205.72 L417.65 206.50 L417.83 207.37 L418.00 208.34 L418.17 209.41 L418.35 210.60 L418.52 211.93 L418.69 213.41 L418.87 215.07 L419.04 216.95 L419.21 219.09 L419.39 221.55 L419.56 224.43 L419.73 227.87 L419.91 232.13 L420.08 237.66 L420.25 245.50 L420.43 258.95 L420.60 300.00 L420.60 300.00 L420.77 259.35 L420.93 245.90 L421.10 238.06 L421.27 232.53 L421.43 228.27 L421.60 224.83 L421.77 221.95 L421.93 219.49 L422.10 217.35 L422.27 215.47 L422.43 213.81 L422.60 212.33 L422.77 211.00 L422.93 209.81 L423.10 208.74 L423.27 207.77 L423.43 206.90 L423.60 206.12 L423.77 205.42 L423.93 204.80 L424.10 204.24 L424.27 203.76 L424.43 203.34 L424.60 202.98 L424.77 202.67 L424.93 202.43 L425.10 202.24 L425.27 202.11 L425.43 202.03 L425.60 202.00 L425.77 202.03 L425.93 202.11 L426.10 202.24 L426.27 202.43 L426.43 202.67 L426.60 202.98 L426.77 203.34 L426.93 203.76 L427.10 204.24 L427.27 204.80 L427.43 205.42 L427.60 206.12 L427.77 206.90 L427.93 207.77 L428.10 208.74 L428.27 209.81 L428.43 211.00 L428.60 212.33 L428.77 213.81 L428.93 215.47 L429.10 217.35 L429.27 219.49 L429.43 221.95 L429.60 224.83 L429.77 228.27 L429.93 232.53 L430.10 238.06 L430.27 245.90 L430.43 259.35 L430.60 300.00 L430.60 300.00 L430.77 259.55 L430.93 246.10 L431.10 238.26 L431.27 232.73 L431.43 228.47 L431.60 225.03 L431.77 222.15 L431.93 219.69 L432.10 217.55 L432.27 215.67 L432.43 214.01 L432.60 212.53 L432.77 211.20 L432.93 210.01 L433.10 208.94 L433.27 207.97 L433.43 207.10 L433.60 206.32 L433.77 205.62 L433.93 205.00 L434.10 204.44 L434.27 203.96 L434.43 203.54 L434.60 203.18 L434.77 202.87 L434.93 202.63 L435.10 202.44 L435.27 202.31 L435.43 202.23 L435.60 202.20 L435.77 202.23 L435.93 202.31 L436.10 202.44 L436.27 202.63 L436.43 202.87 L436.60 203.18 L436.77 203.54 L436.93 203.96 L437.10 204.44 L437.27 205.00 L437.43 205.62 L437.60 206.32 L437.77 207.10 L437.93 207.97 L438.10 208.94 L438.27 210.01 L438.43 211.20 L438.60 212.53 L438.77 214.01 L438.93 215.67 L439.10 217.55 L439.27 219.69 L439.43 222.15 L439.60 225.03 L439.77 228.47 L439.93 232.73 L440.10 238.26 L440.27 246.10 L440.43 259.55 L440.60 300.00 L440.60 300.00 L440.75 259.55 L440.89 246.10 L441.04 238.26 L441.19 232.73 L441.33 228.47 L441.48 225.03 L441.63 222.15 L441.77 219.69 L441.92 217.55 L442.07 215.67 L442.21 214.01 L442.36 212.53 L442.51 211.20 L442.65 210.01 L442.80 208.94 L442.95 207.97 L443.09 207.10 L443.24 206.32 L443.39 205.62 L443.53 205.00 L443.68 204.44 L443.83 203.96 L443.97 203.54 L444.12 203.18 L444.27 202.87 L444.41 202.63 L444.56 202.44 L444.71 202.31 L444.85 202.23 L445.00 202.20 L445.15 202.23 L445.31 202.31 L445.46 202.44 L445.61 202.63 L445.77 202.87 L445.92 203.18 L446.07 203.54 L446.23 203.96 L446.38 204.44 L446.53 205.00 L446.69 205.62 L446.84 206.32 L446.99 207.10 L447.15 207.97 L447.30 208.94 L447.45 210.01 L447.61 211.20 L447.76 212.53 L447.91 214.01 L448.07 215.67 L448.22 217.55 L448.37 219.69 L448.53 222.15 L448.68 225.03 L448.83 228.47 L448.99 232.73 L449.14 238.26 L449.29 246.10 L449.45 259.55 L449.60 300.00 L449.60 300.00 L449.75 259.15 L449.89 245.70 L450.04 237.86 L450.19 232.33 L450.33 228.07 L450.48 224.63 L450.63 221.75 L450.77 219.29 L450.92 217.15 L451.07 215.27 L451.21 213.61 L451.36 212.13 L451.51 210.80 L451.65 209.61 L451.80 208.54 L451.95 207.57 L452.09 206.70 L452.24 205.92 L452.39 205.22 L452.53 204.60 L452.68 204.04 L452.83 203.56 L452.97 203.14 L453.12 202.78 L453.27 202.47 L453.41 202.23 L453.56 202.04 L453.71 201.91 L453.85 201.83 L454.00 201.80 L454.15 201.83 L454.31 201.91 L454.46 202.04 L454.61 202.23 L454.77 202.47 L454.92 202.78 L455.07 203.14 L455.23 203.56 L455.38 204.04 L455.53 204.60 L455.69 205.22 L455.84 205.92 L455.99 206.70 L456.15 207.57 L456.30 208.54 L456.45 209.61 L456.61 210.80 L456.76 212.13 L456.91 213.61 L457.07 215.27 L457.22 217.15 L457.37 219.29 L457.53 221.75 L457.68 224.63 L457.83 228.07 L457.99 232.33 L458.14 237.86 L458.29 245.70 L458.45 259.15 L458.60 300.00 L458.60 300.00 L458.72 257.55 L458.84 244.10 L458.96 236.26 L459.08 230.73 L459.20 226.47 L459.32 223.03 L459.44 220.15 L459.56 217.69 L459.68 215.55 L459.80 213.67 L459.92 212.01 L460.04 210.53 L460.16 209.20 L460.28 208.01 L460.40 206.94 L460.52 205.97 L460.64 205.10 L460.76 204.32 L460.88 203.62 L461.00 203.00 L461.12 202.44 L461.24 201.96 L461.36 201.54 L461.48 201.18 L461.60 200.87 L461.72 200.63 L461.84 200.44 L461.96 200.31 L462.08 200.23 L462.20 200.20 L462.29 200.23 L462.38 200.31 L462.47 200.44 L462.56 200.63 L462.65 200.87 L462.74 201.18 L462.83 201.54 L462.92 201.96 L463.01 202.44 L463.10 203.00 L463.19 203.62 L463.28 204.32 L463.37 205.10 L463.46 205.97 L463.55 206.94 L463.64 208.01 L463.73 209.20 L463.82 210.53 L463.91 212.01 L464.00 213.67 L464.09 215.55 L464.18 217.69 L464.27 220.15 L464.36 223.03 L464.45 226.47 L464.54 230.73 L464.63 236.26 L464.72 244.10 L464.81 257.55 L464.90 300.00 L464.90 300.00 L465.38 221.52 L465.87 201.35 L466.35 189.59 L466.83 181.30 L467.32 174.91 L467.80 169.74 L468.28 165.42 L468.77 161.73 L469.25 158.53 L469.73 155.71 L470.22 153.22 L470.70 150.99 L471.18 149.00 L471.67 147.22 L472.15 145.61 L472.63 144.16 L473.12 142.85 L473.60 141.68 L474.08 140.63 L474.57 139.69 L475.05 138.86 L475.53 138.14 L476.02 137.50 L476.50 136.96 L476.98 136.51 L477.47 136.14 L477.95 135.86 L478.43 135.66 L478.92 135.54 L479.40 135.50 L479.90 135.55 L480.40 135.69 L480.90 135.93 L481.40 136.27 L481.90 136.71 L482.40 137.26 L482.90 137.90 L483.40 138.66 L483.90 139.54 L484.40 140.53 L484.90 141.66 L485.40 142.92 L485.90 144.32 L486.40 145.89 L486.90 147.63 L487.40 149.56 L487.90 151.70 L488.40 154.09 L488.90 156.76 L489.40 159.75 L489.90 163.13 L490.40 166.98 L490.90 171.41 L491.40 176.59 L491.90 182.79 L492.40 190.46 L492.90 200.41 L493.40 214.52 L493.90 238.72 L494.40 300.00 L494.40 300.00 L494.49 257.95 L494.59 244.50 L494.68 236.66 L494.77 231.13 L494.87 226.87 L494.96 223.43 L495.05 220.55 L495.15 218.09 L495.24 215.95 L495.33 214.07 L495.43 212.41 L495.52 210.93 L495.61 209.60 L495.71 208.41 L495.80 207.34 L495.89 206.37 L495.99 205.50 L496.08 204.72 L496.17 204.02 L496.27 203.40 L496.36 202.84 L496.45 202.36 L496.55 201.94 L496.64 201.58 L496.73 201.27 L496.83 201.03 L496.92 200.84 L497.01 200.71 L497.11 200.63 L497.20 200.60 L497.31 200.63 L497.43 200.71 L497.54 200.84 L497.65 201.03 L497.77 201.27 L497.88 201.58 L497.99 201.94 L498.11 202.36 L498.22 202.84 L498.33 203.40 L498.45 204.02 L498.56 204.72 L498.67 205.50 L498.79 206.37 L498.90 207.34 L499.01 208.41 L499.13 209.60 L499.24 210.93 L499.35 212.41 L499.47 214.07 L499.58 215.95 L499.69 218.09 L499.81 220.55 L499.92 223.43 L500.03 226.87 L500.15 231.13 L500.26 236.66 L500.37 244.50 L500.49 257.95 L500.60 300.00 L500.60 300.00 L500.73 260.75 L500.87 247.30 L501.00 239.46 L501.13 233.93 L501.27 229.67 L501.40 226.23 L501.53 223.35 L501.67 220.89 L501.80 218.75 L501.93 216.87 L502.07 215.21 L502.20 213.73 L502.33 212.40 L502.47 211.21 L502.60 210.14 L502.73 209.17 L502.87 208.30 L503.00 207.52 L503.13 206.82 L503.27 206.20 L503.40 205.64 L503.53 205.16 L503.67 204.74 L503.80 204.38 L503.93 204.07 L504.07 203.83 L504.20 203.64 L504.33 203.51 L504.47 203.43 L504.60 203.40 L504.75 203.43 L504.89 203.51 L505.04 203.64 L505.19 203.83 L505.33 204.07 L505.48 204.38 L505.63 204.74 L505.77 205.16 L505.92 205.64 L506.07 206.20 L506.21 206.82 L506.36 207.52 L506.51 208.30 L506.65 209.17 L506.80 210.14 L506.95 211.21 L507.09 212.40 L507.24 213.73 L507.39 215.21 L507.53 216.87 L507.68 218.75 L507.83 220.89 L507.97 223.35 L508.12 226.23 L508.27 229.67 L508.41 233.93 L508.56 239.46 L508.71 247.30 L508.85 260.75 L509.00 300.00 L509.00 300.00 L509.16 261.75 L509.32 248.30 L509.48 240.46 L509.64 234.93 L509.80 230.67 L509.96 227.23 L510.12 224.35 L510.28 221.89 L510.44 219.75 L510.60 217.87 L510.76 216.21 L510.92 214.73 L511.08 213.40 L511.24 212.21 L511.40 211.14 L511.56 210.17 L511.72 209.30 L511.88 208.52 L512.04 207.82 L512.20 207.20 L512.36 206.64 L512.52 206.16 L512.68 205.74 L512.84 205.38 L513.00 205.07 L513.16 204.83 L513.32 204.64 L513.48 204.51 L513.64 204.43 L513.80 204.40 L513.96 204.43 L514.12 204.51 L514.28 204.64 L514.44 204.83 L514.60 205.07 L514.76 205.38 L514.92 205.74 L515.08 206.16 L515.24 206.64 L515.40 207.20 L515.56 207.82 L515.72 208.52 L515.88 209.30 L516.04 210.17 L516.20 211.14 L516.36 212.21 L516.52 213.40 L516.68 214.73 L516.84 216.21 L517.00 217.87 L517.16 219.75 L517.32 221.89 L517.48 224.35 L517.64 227.23 L517.80 230.67 L517.96 234.93 L518.12 240.46 L518.28 248.30 L518.44 261.75 L518.60 300.00 L518.60 300.00 L518.77 261.95 L518.93 248.50 L519.10 240.66 L519.27 235.13 L519.43 230.87 L519.60 227.43 L519.77 224.55 L519.93 222.09 L520.10 219.95 L520.27 218.07 L520.43 216.41 L520.60 214.93 L520.77 213.60 L520.93 212.41 L521.10 211.34 L521.27 210.37 L521.43 209.50 L521.60 208.72 L521.77 208.02 L521.93 207.40 L522.10 206.84 L522.27 206.36 L522.43 205.94 L522.60 205.58 L522.77 205.27 L522.93 205.03 L523.10 204.84 L523.27 204.71 L523.43 204.63 L523.60 204.60 L523.77 204.63 L523.93 204.71 L524.10 204.84 L524.27 205.03 L524.43 205.27 L524.60 205.58 L524.77 205.94 L524.93 206.36 L525.10 206.84 L525.27 207.40 L525.43 208.02 L525.60 208.72 L525.77 209.50 L525.93 210.37 L526.10 211.34 L526.27 212.41 L526.43 213.60 L526.60 214.93 L526.77 216.41 L526.93 218.07 L527.10 219.95 L527.27 222.09 L527.43 224.55 L527.60 227.43 L527.77 230.87 L527.93 235.13 L528.10 240.66 L528.27 248.50 L528.43 261.95 L528.60 300.00 L528.60 300.00 L528.77 261.95 L528.93 248.50 L529.10 240.66 L529.27 235.13 L529.43 230.87 L529.60 227.43 L529.77 224.55 L529.93 222.09 L530.10 219.95 L530.27 218.07 L530.43 216.41 L530.60 214.93 L530.77 213.60 L530.93 212.41 L531.10 211.34 L531.27 210.37 L531.43 209.50 L531.60 208.72 L531.77 208.02 L531.93 207.40 L532.10 206.84 L532.27 206.36 L532.43 205.94 L532.60 205.58 L532.77 205.27 L532.93 205.03 L533.10 204.84 L533.27 204.71 L533.43 204.63 L533.60 204.60 L533.77 204.63 L533.93 204.71 L534.10 204.84 L534.27 205.03 L534.43 205.27 L534.60 205.58 L534.77 205.94 L534.93 206.36 L535.10 206.84 L535.27 207.40 L535.43 208.02 L535.60 208.72 L535.77 209.50 L535.93 210.37 L536.10 211.34 L536.27 212.41 L536.43 213.60 L536.60 214.93 L536.77 216.41 L536.93 218.07 L537.10 219.95 L537.27 222.09 L537.43 224.55 L537.60 227.43 L537.77 230.87 L537.93 235.13 L538.10 240.66 L538.27 248.50 L538.43 261.95 L538.60 300.00 L538.60 300.00 L538.77 262.35 L538.93 248.90 L539.10 241.06 L539.27 235.53 L539.43 231.27 L539.60 227.83 L539.77 224.95 L539.93 222.49 L540.10 220.35 L540.27 218.47 L540.43 216.81 L540.60 215.33 L540.77 214.00 L540.93 212.81 L541.10 211.74 L541.27 210.77 L541.43 209.90 L541.60 209.12 L541.77 208.42 L541.93 207.80 L542.10 207.24 L542.27 206.76 L542.43 206.34 L542.60 205.98 L542.77 205.67 L542.93 205.43 L543.10 205.24 L543.27 205.11 L543.43 205.03 L543.60 205.00 L543.77 205.03 L543.93 205.11 L544.10 205.24 L544.27 205.43 L544.43 205.67 L544.60 205.98 L544.77 206.34 L544.93 206.76 L545.10 207.24 L545.27 207.80 L545.43 208.42 L545.60 209.12 L545.77 209.90 L545.93 210.77 L546.10 211.74 L546.27 212.81 L546.43 214.00 L546.60 215.33 L546.77 216.81 L546.93 218.47 L547.10 220.35 L547.27 222.49 L547.43 224.95 L547.60 227.83 L547.77 231.27 L547.93 235.53 L548.10 241.06 L548.27 248.90 L548.43 262.35 L548.60 300.00" stroke="#5a5a5a" stroke-width="0.75" fill="none" stroke-linejoin="round" clip-path="url(#c)"/>
<path d="M80.50 236.5 v-5 M80.50 14.5 v5 M132.50 236.5 v-5 M132.50 14.5 v5 M183.50 236.5 v-5 M183.50 14.5 v5 M235.50 236.5 v-5 M235.50 14.5 v5 M286.50 236.5 v-5 M286.50 14.5 v5 M338.50 236.5 v-5 M338.50 14.5 v5 M389.50 236.5 v-5 M389.50 14.5 v5 M441.50 236.5 v-5 M441.50 14.5 v5 M492.50 236.5 v-5 M492.50 14.5 v5 M29.5 222.32 h5 M543.5 222.32 h-5 M29.5 199.94 h5 M543.5 199.94 h-5 M29.5 177.56 h5 M543.5 177.56 h-5 M29.5 155.18 h5 M543.5 155.18 h-5 M29.5 132.80 h5 M543.5 132.80 h-5 M29.5 110.42 h5 M543.5 110.42 h-5 M29.5 88.04 h5 M543.5 88.04 h-5 M29.5 65.66 h5 M543.5 65.66 h-5 M29.5 43.28 h5 M543.5 43.28 h-5 M29.5 20.90 h5 M543.5 20.90 h-5" stroke="#a2a2a2" stroke-width="1" fill="none"/>
<rect x="29.5" y="14.5" width="514" height="222" fill="none" stroke="#a2a2a2" stroke-width="1"/>
<g font-family="'Liberation Sans', Arial, sans-serif" fill="#333333" stroke="#333333" stroke-width="0.18" text-rendering="geometricPrecision">
<text x="286.5" y="11.6" font-size="7.9" stroke-width="0.25" text-anchor="middle">Magnitude Response (dB)</text>
<text x="216.8" y="257.7" font-size="7.9" stroke-width="0.25">Normalized Frequency (</text>
<text x="303.7" y="258.6" font-size="9.6" text-anchor="middle" fill="#777" stroke="none">×</text>
<text x="309.1" y="257.7" font-size="7.1" text-anchor="middle" fill="#707070" stroke="none">π</text>
<text x="313.4" y="257.7" font-size="7.9" stroke-width="0.25">rad/sample)</text>
<text transform="translate(11.7 125.2) rotate(-90)" font-size="7.9" stroke-width="0.25" text-anchor="middle">Magnitude (dB)</text>
<text x="29.10" y="247.1" font-size="7.0" text-anchor="middle">0</text>
<text x="80.54" y="247.1" font-size="7.0" text-anchor="middle">0.1</text>
<text x="131.98" y="247.1" font-size="7.0" text-anchor="middle">0.2</text>
<text x="183.42" y="247.1" font-size="7.0" text-anchor="middle">0.3</text>
<text x="234.86" y="247.1" font-size="7.0" text-anchor="middle">0.4</text>
<text x="286.30" y="247.1" font-size="7.0" text-anchor="middle">0.5</text>
<text x="337.74" y="247.1" font-size="7.0" text-anchor="middle">0.6</text>
<text x="389.18" y="247.1" font-size="7.0" text-anchor="middle">0.7</text>
<text x="440.62" y="247.1" font-size="7.0" text-anchor="middle">0.8</text>
<text x="492.06" y="247.1" font-size="7.0" text-anchor="middle">0.9</text>
<text x="26.3" y="225.12" font-size="7.0" text-anchor="end">-70</text>
<text x="26.3" y="202.74" font-size="7.0" text-anchor="end">-60</text>
<text x="26.3" y="180.36" font-size="7.0" text-anchor="end">-50</text>
<text x="26.3" y="157.98" font-size="7.0" text-anchor="end">-40</text>
<text x="26.3" y="135.60" font-size="7.0" text-anchor="end">-30</text>
<text x="26.3" y="113.22" font-size="7.0" text-anchor="end">-20</text>
<text x="26.3" y="90.84" font-size="7.0" text-anchor="end">-10</text>
<text x="26.3" y="68.46" font-size="7.0" text-anchor="end">0</text>
<text x="26.3" y="46.08" font-size="7.0" text-anchor="end">10</text>
<text x="26.3" y="23.70" font-size="7.0" text-anchor="end">20</text>
</g>
</svg>
</body></html>
